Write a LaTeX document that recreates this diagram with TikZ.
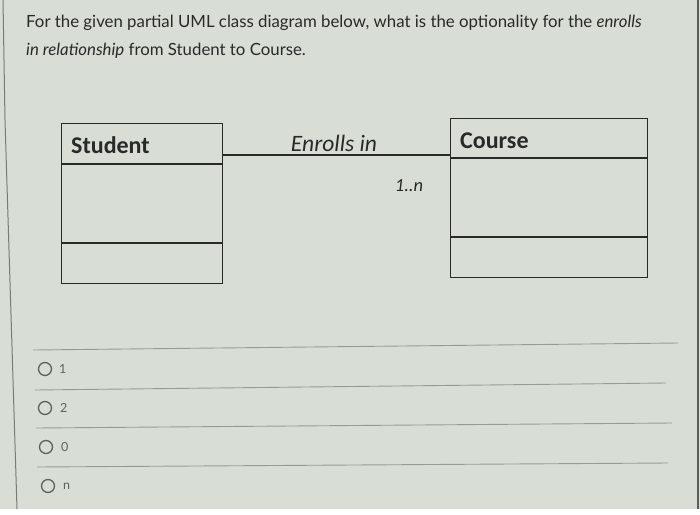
\documentclass[tikz,border=0pt]{standalone}
\usepackage{fontspec}
\setmainfont{Lato}
\newfontfamily\diagfont{Carlito}
\definecolor{screen}{RGB}{216,221,213}
\definecolor{ink}{RGB}{40,42,40}
\definecolor{faint}{RGB}{150,155,150}
\definecolor{opt}{RGB}{95,98,95}
\tikzset{
  box/.style={draw=ink, line width=1.4pt},
  divider/.style={draw=ink, line width=1.2pt},
  assoc/.style={draw=ink, line width=1.2pt},
  sep/.style={draw=faint, line width=0.9pt},
  radio/.style={circle, draw=opt, line width=1.3pt, minimum size=13pt, inner sep=0pt},
  optlabel/.style={anchor=west, text=opt, font=\fontsize{12.5}{14}\selectfont, inner sep=0pt},
  classname/.style={anchor=west, text=ink, font=\diagfont\fontsize{24}{26}\selectfont\bfseries, inner sep=0pt},
  qtext/.style={anchor=west, text=ink, font=\fontsize{16.8}{19}\selectfont, inner sep=0pt},
}
\begin{document}
\begin{tikzpicture}[x=1pt,y=-1pt]
\useasboundingbox (0,0) rectangle (700,514);
\fill[screen] (0,0) rectangle (700,514);
\fill[white] (0,509) rectangle (700,514);
\draw[faint!80!black, line width=1pt] (3,0) -- (5,120) -- (17,509);
\draw[faint!60!black, line width=1.5pt] (698,0) -- (698,509);
% question
\node[qtext] (q1) at (26,23) {For the given partial UML class diagram below, what is the optionality for the \textit{enrolls}};
\node[qtext] (q2) at (26,51) {\textit{in relationship} from Student to Course.};
% Student class
\node[box, minimum width=161pt, minimum height=160pt, anchor=north west, inner sep=0pt] (student) at (61,123) {};
\coordinate (s1) at (61,164);
\coordinate (s1r) at (222,164);
\coordinate (s2) at (61,243);
\coordinate (s2r) at (222,243);
\draw[divider] (s1) -- (s1r);
\draw[divider] (s2) -- (s2r);
\node[classname] (sname) at (71,145) {Student};
% Course class
\node[box, minimum width=197pt, minimum height=159pt, anchor=north west, inner sep=0pt] (course) at (450,118) {};
\coordinate (c1) at (450,158);
\coordinate (c1r) at (647,158);
\coordinate (c2) at (450,237);
\coordinate (c2r) at (647,237);
\draw[divider] (c1) -- (c1r);
\draw[divider] (c2) -- (c2r);
\node[classname] (cname) at (460,141) {Course};
% association
\coordinate (aS) at (222,155);
\coordinate (aC) at (450,155);
\draw[assoc] (aS) -- (aC);
\node[text=ink, font=\diagfont\fontsize{23.5}{25}\selectfont\itshape, inner sep=0pt] (rel) at (334,143) {Enrolls in};
\node[text=ink, font=\diagfont\fontsize{18.5}{21}\selectfont\itshape, inner sep=0pt] (mult) at (409,186) {1..n};
% option separators
\coordinate (l1a) at (33,350); \coordinate (l1b) at (678,343);
\coordinate (l2a) at (35,390); \coordinate (l2b) at (666,383);
\coordinate (l3a) at (36,428); \coordinate (l3b) at (672,423);
\coordinate (l4a) at (37,467); \coordinate (l4b) at (668,463);
\draw[sep] (l1a) -- (l1b);
\draw[sep] (l2a) -- (l2b);
\draw[sep] (l3a) -- (l3b);
\draw[sep] (l4a) -- (l4b);
% options
\node[radio] (r1) at (45,369) {};
\node[optlabel] (o1) at (59,369) {1};
\node[radio] (r2) at (45,408) {};
\node[optlabel] (o2) at (60,408) {2};
\node[radio] (r3) at (46,447) {};
\node[optlabel] (o3) at (61,447) {0};
\node[radio] (r4) at (48,486) {};
\node[optlabel] (o4) at (63,486) {n};
\end{tikzpicture}
\end{document}
